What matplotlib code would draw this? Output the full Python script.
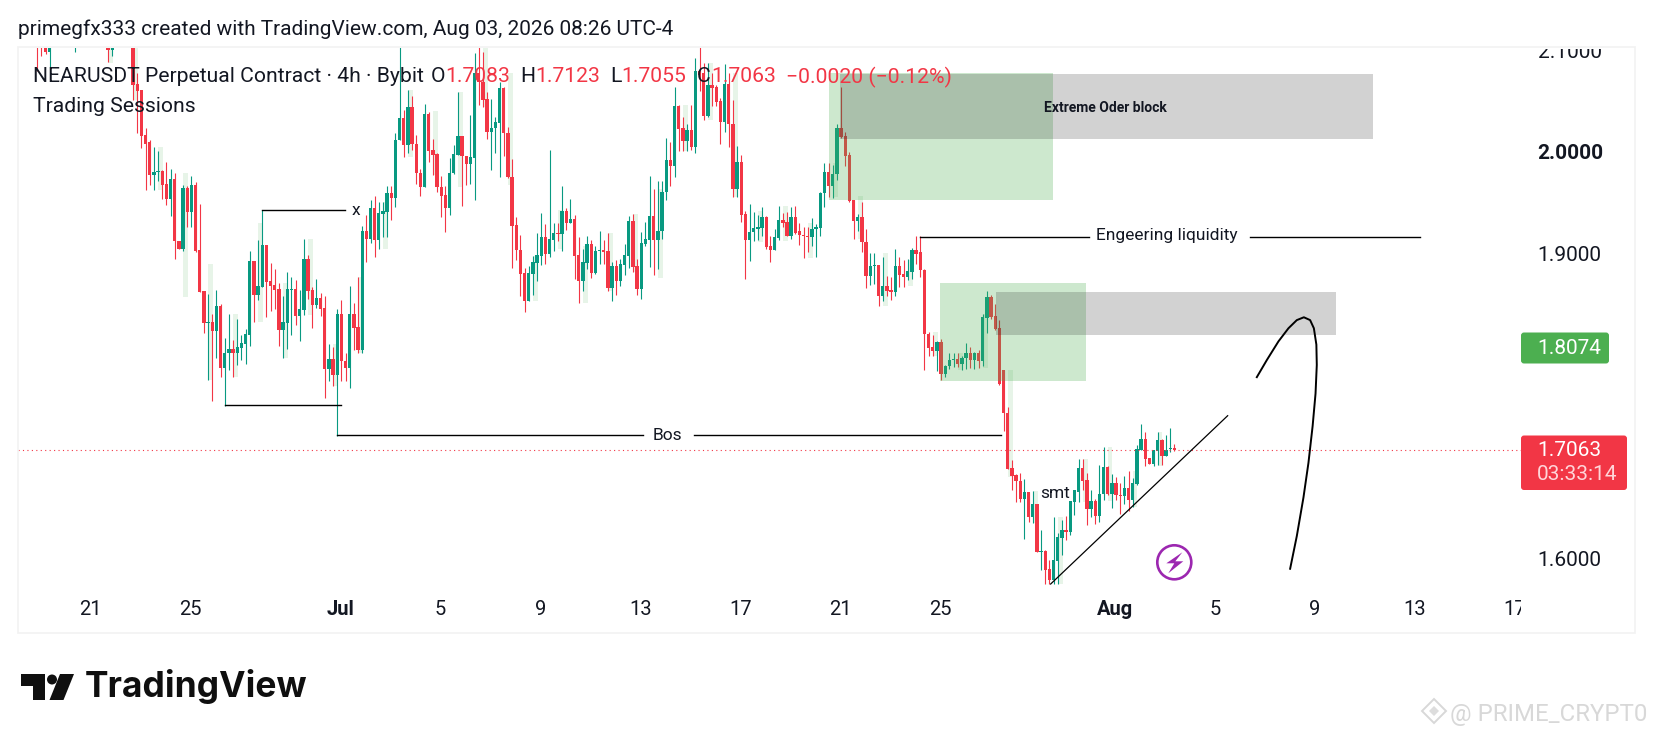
import numpy as np
import matplotlib
matplotlib.use("Agg")
import matplotlib.pyplot as plt
from matplotlib.patches import Rectangle, Polygon, Circle, FancyBboxPatch
from matplotlib.transforms import Bbox, IdentityTransform

n = np.nan

opens = [
    2.125, 2.125, 2.112, 2.098, n, n, n, n, n, 2.112,
    n, n, n, n, n, n, n, 2.115, 2.100, n,
    n, n, n, 2.115, 2.067, 2.061, 2.017, 2.010, 1.977, 1.980,
    1.981, 1.968, 1.954, 1.973, 1.912, 1.904, 1.964, 1.941, 1.967, 1.903,
    1.863, 1.832, 1.833, 1.824, 1.848, 1.787, 1.802, 1.806, 1.802, 1.807,
    1.811, 1.820, 1.893, 1.859, 1.867, 1.908, 1.873, 1.869, 1.865, 1.825,
    1.832, 1.864, 1.865, 1.839, 1.844, 1.895, 1.864, 1.849, 1.856, 1.846,
    1.786, 1.796, 1.781, 1.841, 1.794, 1.787, 1.841, 1.828, 1.805, 1.922,
    1.914, 1.945, 1.913, 1.939, 1.941, 1.959, 1.955, 2.012, 2.033, 2.007,
    2.044, 2.008, 1.979, 1.965, 2.037, 2.002, 1.998, 1.965, 1.958, 1.945,
    1.979, 1.997, 2.016, 1.996, 1.988, 1.994, 2.077, 2.069, 2.052, 2.019,
    2.023, 2.028, 2.063, 2.018, 1.975, 1.928, 1.903, 1.881, 1.853, 1.880,
    1.891, 1.898, 1.916, 1.900, 1.913, 1.920, 1.919, 1.942, 1.930, 1.934,
    1.899, 1.873, 1.891, 1.909, 1.881, 1.902, 1.903, 1.902, 1.866, 1.888,
    1.873, 1.889, 1.898, 1.932, 1.888, 1.865, 1.909, 1.913, 1.937, 1.913,
    1.922, 1.960, 1.992, 1.986, 2.045, 2.023, 2.011, 2.021, 2.005, 2.079,
    2.077, 2.035, 2.066, 2.064, 2.050, 2.029, 2.067, 2.027, 1.963, 1.990,
    1.939, 1.913, 1.921, 1.924, 1.925, 1.936, 1.907, 1.903, 1.915, 1.933,
    1.931, 1.917, 1.936, 1.922, 1.918, 1.917, 1.916, 1.924, 1.925, 1.959,
    1.980, 1.966, 1.978, 2.023, 2.016, 1.997, 1.953, 1.932, 1.936, 1.911,
    1.878, 1.888, 1.889, 1.858, 1.868, 1.864, 1.862, 1.888, 1.880, 1.877,
    1.882, 1.903, 1.901, 1.884, 1.821, 1.808, 1.804, 1.813, 1.782, 1.789,
    1.795, 1.796, 1.791, 1.797, 1.802, 1.795, 1.802, 1.794, 1.837, 1.857,
    1.839, 1.827, 1.785, 1.743, 1.689, 1.682, 1.676, 1.659, 1.665, 1.641,
    1.654, 1.606, 1.607, 1.590, 1.579, 1.598, 1.620, 1.628, 1.626, 1.656,
    1.665, 1.689, 1.677, 1.649, 1.657, 1.642, 1.664, 1.690, 1.664, 1.674,
    1.663, 1.662, 1.669, 1.658, 1.673, 1.707, 1.718, 1.699, 1.693, 1.706,
    1.717, 1.701, 1.708, 1.7083,
]
highs = [
    2.13, 2.13, 2.12, 2.12, n, n, n, n, n, 2.13,
    n, n, n, n, n, n, n, 2.12, 2.12, n,
    n, n, n, 2.12, 2.077, 2.061, 2.023, 2.012, 2.005, 2.001,
    1.982, 1.990, 1.983, 1.979, 1.912, 1.967, 1.966, 1.976, 1.970, 1.949,
    1.863, 1.860, 1.841, 1.864, 1.850, 1.817, 1.841, 1.815, 1.836, 1.820,
    1.826, 1.902, 1.893, 1.913, 1.943, 1.908, 1.891, 1.885, 1.871, 1.858,
    1.882, 1.877, 1.874, 1.864, 1.914, 1.899, 1.867, 1.875, 1.861, 1.858,
    1.811, 1.808, 1.845, 1.854, 1.802, 1.868, 1.851, 1.877, 1.927, 1.938,
    1.953, 1.957, 1.951, 1.951, 1.966, 1.966, 2.018, 2.110, 2.041, 2.061,
    2.055, 2.017, 1.983, 2.047, 2.039, 2.013, 1.999, 1.976, 1.966, 1.994,
    2.007, 2.059, 2.016, 1.996, 2.036, 2.097, 2.105, 2.098, 2.059, 2.052,
    2.034, 2.069, 2.064, 2.024, 1.993, 1.936, 1.918, 1.886, 1.888, 1.898,
    1.920, 1.940, 1.929, 2.002, 1.930, 1.930, 1.966, 1.945, 1.954, 1.938,
    1.916, 1.904, 1.917, 1.913, 1.907, 1.922, 1.913, 1.920, 1.892, 1.894,
    1.895, 1.909, 1.937, 1.939, 1.895, 1.921, 1.931, 1.976, 1.963, 1.971,
    1.971, 2.014, 2.010, 2.064, 2.046, 2.034, 2.027, 2.046, 2.092, 2.105,
    2.087, 2.087, 2.077, 2.066, 2.053, 2.086, 2.077, 2.051, 2.006, 1.997,
    1.942, 1.949, 1.941, 1.938, 1.946, 1.937, 1.917, 1.924, 1.947, 1.940,
    1.941, 1.946, 1.947, 1.930, 1.926, 1.926, 1.935, 1.929, 1.960, 1.989,
    1.989, 1.987, 2.027, 2.064, 2.019, 2.000, 1.953, 1.939, 1.951, 1.924,
    1.900, 1.900, 1.889, 1.897, 1.878, 1.877, 1.904, 1.897, 1.894, 1.895,
    1.905, 1.917, 1.917, 1.885, 1.823, 1.820, 1.814, 1.816, 1.790, 1.802,
    1.802, 1.802, 1.799, 1.812, 1.808, 1.803, 1.805, 1.841, 1.863, 1.859,
    1.850, 1.835, 1.785, 1.749, 1.697, 1.683, 1.684, 1.678, 1.665, 1.666,
    1.654, 1.628, 1.608, 1.599, 1.641, 1.625, 1.638, 1.642, 1.657, 1.667,
    1.698, 1.698, 1.684, 1.667, 1.659, 1.692, 1.710, 1.691, 1.683, 1.680,
    1.674, 1.681, 1.686, 1.679, 1.712, 1.732, 1.724, 1.699, 1.707, 1.724,
    1.718, 1.722, 1.728, 1.7123,
]
lows = [
    2.079, 2.094, 2.096, 2.082, n, n, n, n, n, 2.098,
    n, n, n, n, n, n, n, 2.088, 2.094, n,
    n, n, n, 2.051, 2.018, 2.004, 1.962, 1.967, 1.962, 1.971,
    1.954, 1.948, 1.937, 1.895, 1.904, 1.902, 1.926, 1.926, 1.901, 1.862,
    1.822, 1.776, 1.755, 1.797, 1.779, 1.750, 1.785, 1.779, 1.790, 1.795,
    1.791, 1.809, 1.833, 1.854, 1.867, 1.838, 1.843, 1.845, 1.809, 1.797,
    1.806, 1.820, 1.830, 1.814, 1.840, 1.855, 1.827, 1.846, 1.839, 1.758,
    1.775, 1.770, 1.721, 1.775, 1.775, 1.768, 1.805, 1.802, 1.802, 1.892,
    1.910, 1.897, 1.904, 1.916, 1.916, 1.933, 1.946, 2.012, 1.995, 1.999,
    2.002, 1.968, 1.957, 1.965, 1.990, 1.977, 1.960, 1.936, 1.921, 1.938,
    1.978, 1.997, 1.947, 1.967, 1.968, 1.953, 2.046, 2.044, 2.013, 1.982,
    1.999, 1.975, 1.996, 1.974, 1.886, 1.894, 1.858, 1.842, 1.853, 1.859,
    1.873, 1.889, 1.890, 1.897, 1.902, 1.912, 1.902, 1.923, 1.930, 1.875,
    1.851, 1.863, 1.885, 1.876, 1.880, 1.890, 1.890, 1.863, 1.853, 1.859,
    1.868, 1.879, 1.886, 1.882, 1.859, 1.855, 1.907, 1.887, 1.879, 1.885,
    1.914, 1.953, 1.966, 1.975, 2.001, 2.001, 2.001, 2.002, 1.999, 2.060,
    2.031, 2.034, 2.045, 2.045, 2.008, 2.019, 2.005, 1.956, 1.956, 1.931,
    1.875, 1.893, 1.912, 1.913, 1.917, 1.904, 1.892, 1.903, 1.913, 1.926,
    1.917, 1.914, 1.919, 1.908, 1.896, 1.901, 1.907, 1.897, 1.917, 1.946,
    1.956, 1.955, 1.972, 2.014, 1.986, 1.951, 1.914, 1.922, 1.901, 1.866,
    1.869, 1.870, 1.848, 1.853, 1.858, 1.854, 1.858, 1.867, 1.867, 1.874,
    1.875, 1.890, 1.877, 1.785, 1.799, 1.799, 1.784, 1.776, 1.779, 1.786,
    1.788, 1.788, 1.785, 1.786, 1.787, 1.786, 1.787, 1.789, 1.822, 1.836,
    1.825, 1.771, 1.725, 1.688, 1.667, 1.656, 1.656, 1.619, 1.636, 1.635,
    1.606, 1.589, 1.575, 1.575, 1.575, 1.575, 1.604, 1.618, 1.623, 1.643,
    1.656, 1.667, 1.633, 1.641, 1.634, 1.636, 1.658, 1.663, 1.650, 1.658,
    1.644, 1.654, 1.647, 1.651, 1.672, 1.707, 1.691, 1.693, 1.691, 1.692,
    1.692, 1.701, 1.705, 1.7055,
]
closes = [
    2.115, 2.11, 2.098, 2.112, n, n, n, n, n, 2.12,
    n, n, n, n, n, n, n, 2.100, 2.112, n,
    n, n, n, 2.066, 2.060, 2.016, 2.008, 1.977, 1.980, 1.981,
    1.967, 1.954, 1.973, 1.912, 1.904, 1.964, 1.941, 1.967, 1.902, 1.862,
    1.832, 1.833, 1.824, 1.848, 1.787, 1.802, 1.806, 1.802, 1.808, 1.812,
    1.821, 1.893, 1.859, 1.868, 1.908, 1.872, 1.868, 1.864, 1.825, 1.833,
    1.865, 1.865, 1.839, 1.845, 1.895, 1.863, 1.849, 1.856, 1.845, 1.786,
    1.796, 1.781, 1.841, 1.794, 1.787, 1.841, 1.827, 1.805, 1.922, 1.914,
    1.945, 1.913, 1.940, 1.942, 1.959, 1.955, 2.012, 2.033, 2.007, 2.044,
    2.008, 1.979, 1.965, 2.037, 2.001, 1.997, 1.965, 1.957, 1.945, 1.979,
    1.998, 2.016, 1.996, 1.988, 1.995, 2.077, 2.069, 2.051, 2.019, 2.023,
    2.029, 2.063, 2.018, 1.975, 1.927, 1.903, 1.880, 1.853, 1.881, 1.892,
    1.899, 1.916, 1.900, 1.914, 1.920, 1.919, 1.942, 1.930, 1.934, 1.898,
    1.873, 1.892, 1.909, 1.881, 1.902, 1.903, 1.901, 1.866, 1.888, 1.873,
    1.890, 1.899, 1.932, 1.887, 1.865, 1.910, 1.914, 1.937, 1.913, 1.922,
    1.960, 1.992, 1.986, 2.045, 2.022, 2.011, 2.021, 2.005, 2.079, 2.076,
    2.035, 2.066, 2.063, 2.049, 2.029, 2.067, 2.027, 1.963, 1.990, 1.938,
    1.913, 1.921, 1.925, 1.926, 1.936, 1.906, 1.903, 1.916, 1.933, 1.930,
    1.917, 1.936, 1.920, 1.918, 1.917, 1.916, 1.924, 1.926, 1.959, 1.980,
    1.966, 1.978, 2.023, 2.015, 1.996, 1.952, 1.932, 1.936, 1.911, 1.878,
    1.888, 1.889, 1.858, 1.868, 1.863, 1.862, 1.888, 1.879, 1.877, 1.883,
    1.903, 1.900, 1.884, 1.821, 1.807, 1.804, 1.813, 1.782, 1.789, 1.795,
    1.796, 1.791, 1.797, 1.802, 1.795, 1.802, 1.794, 1.838, 1.857, 1.838,
    1.826, 1.772, 1.743, 1.688, 1.681, 1.676, 1.659, 1.665, 1.641, 1.654,
    1.606, 1.607, 1.589, 1.579, 1.599, 1.621, 1.628, 1.626, 1.657, 1.667,
    1.689, 1.676, 1.649, 1.657, 1.642, 1.664, 1.690, 1.664, 1.674, 1.663,
    1.662, 1.669, 1.658, 1.674, 1.708, 1.718, 1.698, 1.693, 1.707, 1.717,
    1.701, 1.707, 1.709, 1.7063,
]

session_bars = list(range(17, 270, 6))
session_highs = [
    2.11, 2.12, 2.005, 1.979, 1.890, 1.841, 1.930, 1.871, 1.914, 1.811, 1.877,
    1.951, 2.061, 2.040, 2.059, 2.102, 2.077, 1.898, 1.943, 1.907, 1.920, 1.939,
    1.963, 2.046, 2.087, 2.077, 1.942, 1.947, 1.930, 1.989, 1.957, 1.900, 1.894,
    1.823, 1.802, 1.841, 1.785, 1.666, 1.641, 1.698, 1.710, 1.686, 1.724,
]
session_lows = [
    2.087, 2.051, 1.962, 1.857, 1.776, 1.779, 1.833, 1.797, 1.840, 1.770, 1.802,
    1.904, 1.995, 1.977, 1.965, 2.044, 1.967, 1.853, 1.904, 1.851, 1.863, 1.882,
    1.876, 2.001, 2.031, 1.956, 1.911, 1.912, 1.896, 1.956, 1.914, 1.848, 1.868,
    1.799, 1.785, 1.787, 1.680, 1.635, 1.575, 1.656, 1.657, 1.651, 1.691,
]

# days counted from Jul 1, 6 bars a day
tick_days = [-10, -6, 0, 4, 8, 12, 16, 20, 24, 31, 35, 39, 43, 47]
tick_labels = ["21", "25", "Jul", "5", "9", "13", "17", "21", "25", "Aug", "5", "9", "13", "17"]
price_ticks = [2.1, 2.0, 1.9, 1.6]
price_labels = ["2.1000", "2.0000", "1.9000", "1.6000"]

last_price = 1.7063
level_price = 1.8074

curve_bars = [292.8, 295.2, 298.0, 300.4, 302.4, 304.1, 305.6, 306.5, 307.1, 307.2, 306.9, 306.2, 305.2, 304.0, 302.4, 300.8]
curve_prices = [1.7784, 1.7952, 1.8136, 1.8265, 1.8345, 1.8373, 1.8345, 1.8265, 1.8104, 1.7904, 1.7623, 1.7303, 1.6942, 1.6601, 1.6221, 1.5900]

GREEN = "#089981"
RED = "#F23645"
TEXT = "#131722"
W, H = 1653, 739
JUL_BAR = 72.8

plt.rcParams["font.family"] = ["Roboto", "DejaVu Sans"]

fig = plt.figure(figsize=(W / 100, H / 100), dpi=100, facecolor="white")
ax_l, ax_r, ax_t, ax_b = 18, 1521, 48, 590
ax = fig.add_axes([ax_l / W, 1 - ax_b / H, (ax_r - ax_l) / W, (ax_b - ax_t) / H])
ax.set_xlim((ax_l - 37.3) / 4.165, (ax_r - 37.3) / 4.165)
ax.set_ylim(2 - (ax_b - 151.8) / 1017, 2 - (ax_t - 151.8) / 1017)
for s in ax.spines.values():
    s.set_visible(False)


def px(x, y):
    return x, H - y


def add_px(patch):
    patch.set_transform(IdentityTransform())
    fig.add_artist(patch)


def label(x, y, s, **kw):
    kw.setdefault("color", TEXT)
    kw.setdefault("va", "center")
    return fig.text(x / W, 1 - y / H, s, **kw)


# candles
x = np.arange(len(opens))
o, h, l, c = map(np.array, (opens, highs, lows, closes))
up = c >= o
ok = ~np.isnan(o)
colors = np.where(up, GREEN, RED)
ax.bar(session_bars, np.array(session_highs) - np.array(session_lows), bottom=session_lows,
       width=1.15, align="edge", color="#4caf50", alpha=0.13, linewidth=0, zorder=1)
ax.vlines(x[ok], l[ok], h[ok], colors=colors[ok], linewidth=0.8, zorder=2)
ax.bar(x[ok], np.abs(c - o)[ok], bottom=np.minimum(o, c)[ok], width=0.8,
       color=colors[ok], linewidth=0, zorder=2)

# zones
ax.add_patch(Rectangle((190.1, 1.9527), 53.8, 0.1251, color="#4caf50", alpha=0.28, linewidth=0, zorder=3))
ax.add_patch(Rectangle((216.8, 1.7746), 35.1, 0.0961, color="#4caf50", alpha=0.28, linewidth=0, zorder=3))
ax.add_patch(Rectangle((192.7, 2.0127), 128.1, 0.0637, color="#202020", alpha=0.2, linewidth=0, zorder=3))
ax.add_patch(Rectangle((230.1, 1.8200), 81.6, 0.0425, color="#202020", alpha=0.2, linewidth=0, zorder=3))

# drawings
ax.plot([54, 73.9], [1.9426, 1.9426], color="black", lw=1, zorder=4)
ax.plot([45, 72.8], [1.7507, 1.7507], color="black", lw=1, zorder=4)
ax.plot([72, 145.4], [1.7212, 1.7212], color="black", lw=1, zorder=4)
ax.plot([157.6, 231.4], [1.7212, 1.7212], color="black", lw=1, zorder=4)
ax.plot([212, 252.4], [1.916, 1.916], color="black", lw=1, zorder=4)
ax.plot([291.2, 331.9], [1.916, 1.916], color="black", lw=1, zorder=4)
ax.plot([243.3, 285.8], [1.575, 1.7405], color="black", lw=0.9, zorder=4)
ax.plot(curve_bars, curve_prices, color="black", lw=1.4, solid_joinstyle="round", zorder=4)
ax.axhline(last_price, color=RED, lw=0.8, ls=(0, (1, 3)), zorder=2)

ax.text(76.4, 1.9426, "x", ha="center", va="center", fontsize=12.5, color=TEXT, zorder=5)
ax.text(151.2, 1.7212, "Bos", ha="center", va="center", fontsize=12.5, color=TEXT, zorder=5)
ax.text(271.2, 1.9175, "Engeering liquidity", ha="center", va="center", fontsize=12.5, color=TEXT, zorder=5)
ax.text(244.3, 1.664, "smt", ha="center", va="center", fontsize=12.5, color=TEXT, zorder=5)
ax.text(256.5, 2.0435, "Extreme Oder block", ha="center", va="center", fontsize=10,
        fontweight="bold", color=TEXT, zorder=5)

# axes
ax.set_xticks([JUL_BAR + 6 * d for d in tick_days])
ax.set_xticklabels(tick_labels, fontsize=14.5, color=TEXT)
ax.tick_params(axis="x", length=0, pad=7)
ax.yaxis.tick_right()
ax.set_yticks(price_ticks)
ax.set_yticklabels(price_labels, fontsize=15, color=TEXT)
ax.tick_params(axis="y", length=0, pad=12)
for lab in ax.get_xticklabels():
    if lab.get_text() in ("Jul", "Aug"):
        lab.set_fontweight("bold")
ax.get_xticklabels()[-1].set_clip_box(Bbox([[0, 0], [ax_r, H]]))
ax.get_xticklabels()[-1].set_clip_on(True)
ax.get_yticklabels()[0].set_clip_box(Bbox([[0, 0], [W, H - 49]]))
ax.get_yticklabels()[0].set_clip_on(True)
ax.get_yticklabels()[1].set_fontweight("bold")

# outer frame
add_px(Rectangle(px(18, 633), 1617, 586, fill=False, edgecolor="#f2f2f2", linewidth=1.2))

# price tags
add_px(FancyBboxPatch(px(1521, 363.5), 88, 31, boxstyle="round,pad=0,rounding_size=3", facecolor="#4CAF50", edgecolor="none"))
add_px(FancyBboxPatch(px(1521, 490), 106, 54.5, boxstyle="round,pad=0,rounding_size=3", facecolor=RED, edgecolor="none"))
label(1537, 348, f"{level_price:.4f}", color="white", fontsize=15)
label(1537, 451, f"{last_price:.4f}", color="white", fontsize=15)
label(1537, 475, "03:33:14", color="#ffd5d9", fontsize=15)

# header and legend
label(18, 29, "primegfx333 created with TradingView.com, Aug 03, 2026 08:26 UTC-4", fontsize=15)
label(32.7, 77, "NEARUSDT Perpetual Contract · 4h · Bybit", fontsize=15.2)
label(32.7, 107, "Trading Sessions", fontsize=15.2)
for xp, s, col in [
    (430.7, "O", TEXT), (445, "1.7083", RED), (520, "H", TEXT), (535, "1.7123", RED),
    (610.7, "L", TEXT), (621.7, "1.7055", RED), (696.7, "C", TEXT), (711, "1.7063", RED),
    (786, "−0.0020 (−0.12%)", RED),
]:
    label(xp, 77, s, color=col, fontsize=15.2)

# lightning icon
add_px(Circle(px(1174.3, 562.3), 17, fill=False, edgecolor="#9C27B0", linewidth=1.9))
bolt = [(8, -10), (-8, 1), (0, 1), (-6, 11), (9, -1), (1, -1)]
add_px(Polygon([px(1174.3 + a, 562.3 + b) for a, b in bolt], facecolor="#9C27B0", edgecolor="none"))

# TradingView logo
add_px(Polygon([px(21, 674), px(45, 674), px(45, 700), px(32.5, 700), px(32.5, 686), px(21, 686)], facecolor="#0f0f0f", edgecolor="none"))
add_px(Circle(px(52, 679.5), 5, facecolor="#0f0f0f", edgecolor="none"))
add_px(Polygon([px(60, 674), px(74, 674), px(63.5, 700), px(49.5, 700)], facecolor="#0f0f0f", edgecolor="none"))
label(85, 687, "TradingView", fontsize=25.5, fontweight="bold", color="#0f0f0f", family="Inter")

# watermark
label(1450, 714, "@ PRIME_CRYPT0", fontsize=17.3, color="#d8d8d8")
add_px(Polygon([px(1422, 711), px(1434, 699), px(1446, 711), px(1434, 723)], fill=False, edgecolor="#d8d8d8", linewidth=1.4))
add_px(Polygon([px(1429, 711), px(1434, 706), px(1439, 711), px(1434, 716)], facecolor="#dddddd", edgecolor="none"))

fig.savefig("out.png", dpi=100, facecolor="white")
